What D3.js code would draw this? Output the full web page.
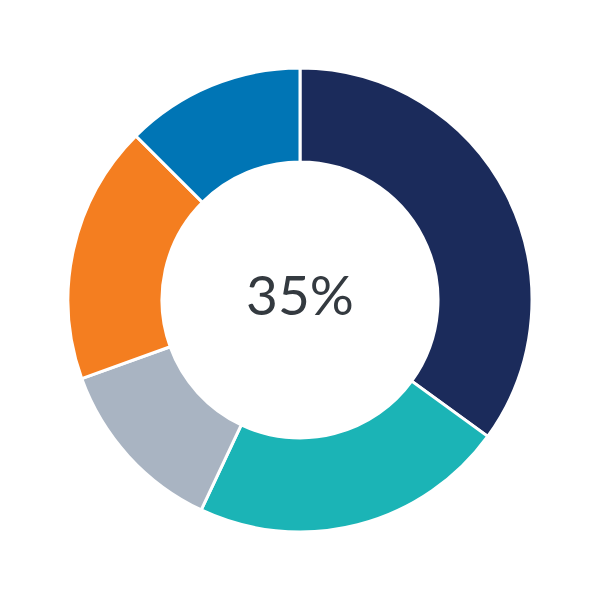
<!DOCTYPE html>
<html><head><meta charset="utf-8">
<script src="https://cdn.jsdelivr.net/npm/d3@7"></script>
<style>html,body{margin:0;padding:0;background:#fff;}</style>
</head><body>
<svg id="chart" width="600" height="600"></svg>
<script>
const categories = ["A", "B", "C", "D", "E"];
const values = [35, 22, 12.5, 18, 12.5];
const colors = ["#1b2b5b", "#1bb4b6", "#a9b4c2", "#f47e20", "#0075b5"];
const centerLabel = "35%";

const svg = d3.select("#chart");
const g = svg.append("g").attr("transform", "translate(300,300)");
const pie = d3.pie().sort(null).value(d => d.v);
const arc = d3.arc().innerRadius(138).outerRadius(232);
const data = categories.map((c, i) => ({c, v: values[i]}));
const color = d3.scaleOrdinal().domain(categories).range(colors);
g.selectAll("path").data(pie(data)).join("path")
  .attr("d", arc)
  .attr("fill", d => color(d.data.c))
  .attr("stroke", "#fff")
  .attr("stroke-width", 3);
g.append("text").text(centerLabel)
  .attr("text-anchor", "middle")
  .attr("y", 15)
  .attr("font-family", "Lato, sans-serif")
  .attr("font-size", 55)
  .attr("fill", "#343a40");
</script>
</body></html>
